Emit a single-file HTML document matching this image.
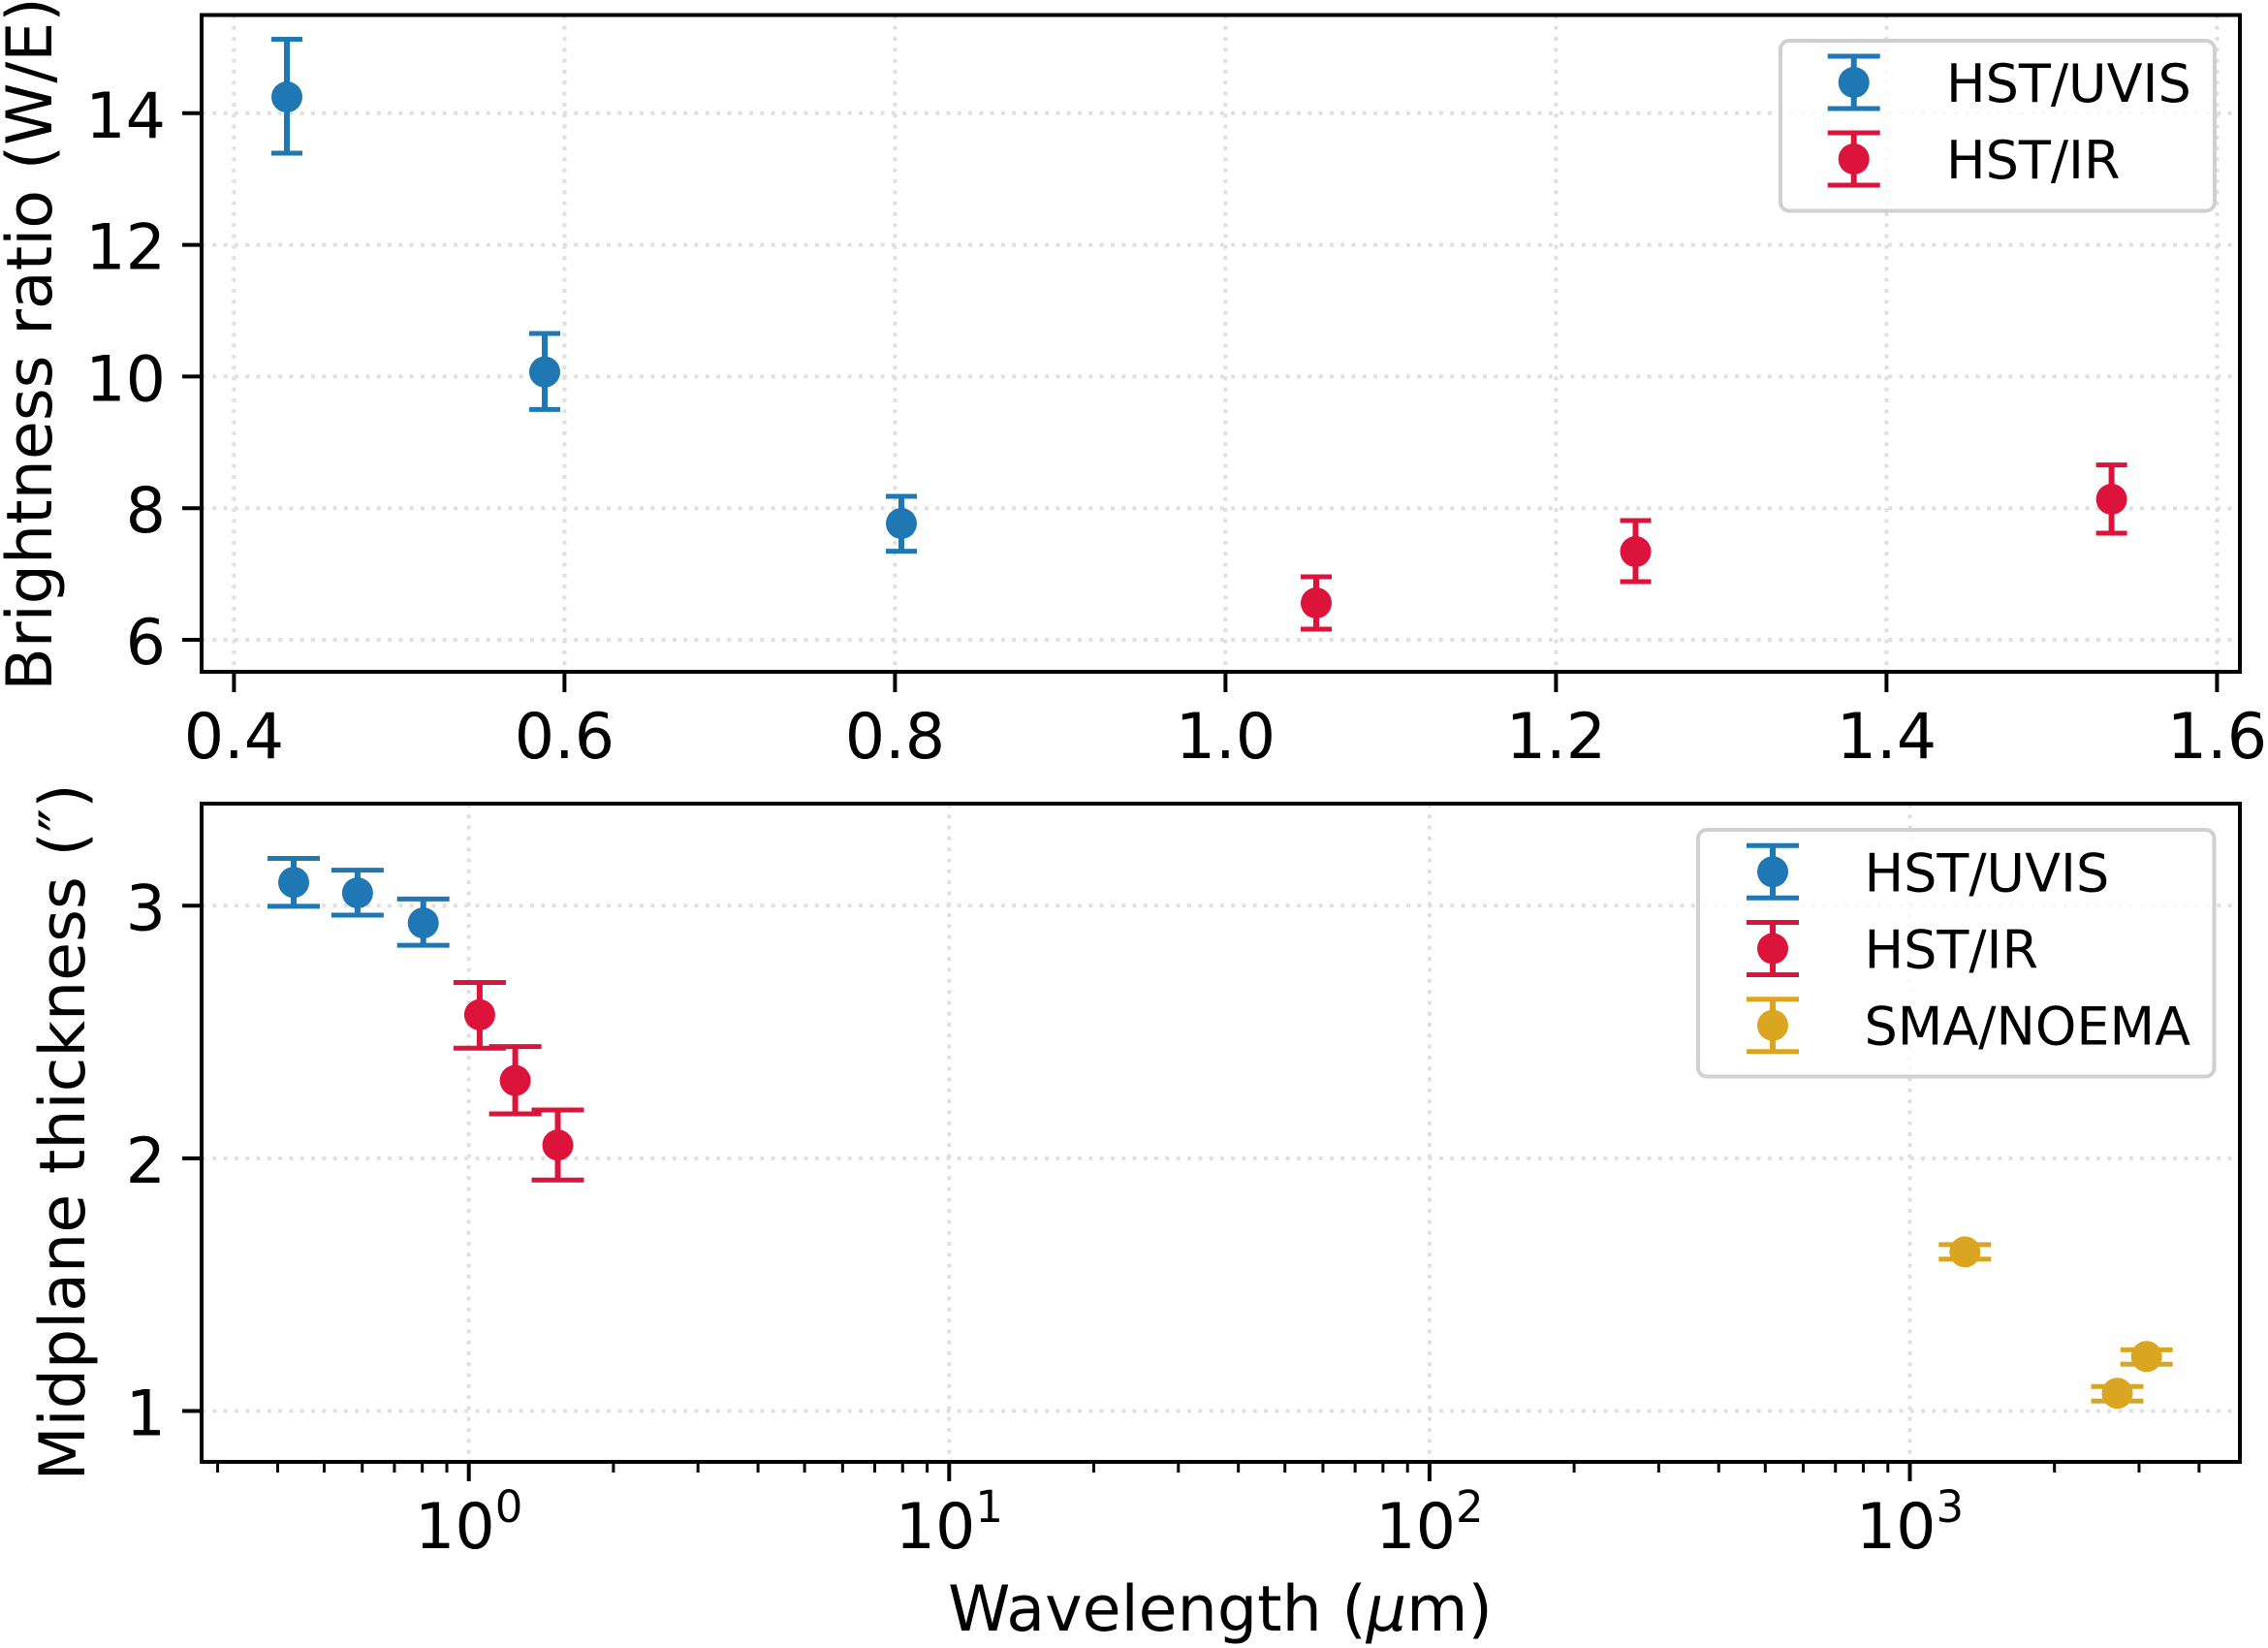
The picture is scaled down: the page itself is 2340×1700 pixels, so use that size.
<!DOCTYPE html>
<html><head><meta charset="utf-8"><style>
html,body{margin:0;padding:0;background:#fff;}
svg{display:block;}
text{font-family:"DejaVu Sans","Liberation Sans",sans-serif;fill:#000;}
</style></head><body>
<svg width="2340" height="1700" viewBox="0 0 2340 1700" xmlns="http://www.w3.org/2000/svg">
<rect width="2340" height="1700" fill="#fff"/>

<!-- ============ TOP PANEL ============ -->
<g stroke="#e0e0e0" stroke-width="4" stroke-dasharray="4 7.3" fill="none">
  <path d="M241.4 15.5V693M582.4 15.5V693M923.4 15.5V693M1264.4 15.5V693M1605.4 15.5V693M1946.4 15.5V693M2287.4 15.5V693"/>
  <path d="M208 116.8H2311M208 252.6H2311M208 388.4H2311M208 524.2H2311M208 660H2311"/>
</g>

<!-- top data -->
<g fill="none" stroke-linecap="butt">
  <g stroke="#1f77b4">
    <path stroke-width="6" d="M296 40.5V158M562 344V422.4M930 512V568.6"/>
    <path stroke-width="5" d="M280 40.5H312M280 158H312M546 344H578M546 422.4H578M914 512H946M914 568.6H946"/>
  </g>
  <g stroke="#dc143c">
    <path stroke-width="6" d="M1358 595V649M1687.5 537V600M2178.6 479.6V550"/>
    <path stroke-width="5" d="M1342 595H1374M1342 649H1374M1671.5 537H1703.5M1671.5 600H1703.5M2162.6 479.6H2194.6M2162.6 550H2194.6"/>
  </g>
</g>
<g fill="#1f77b4"><circle cx="296" cy="100" r="16"/><circle cx="562" cy="383.7" r="16"/><circle cx="930" cy="540" r="16"/></g>
<g fill="#dc143c"><circle cx="1358" cy="622" r="16"/><circle cx="1687.5" cy="569" r="16"/><circle cx="2178.6" cy="515" r="16"/></g>

<!-- top legend -->
<rect x="1837" y="42" width="448" height="175.5" rx="9" ry="9" fill="#fff" fill-opacity="0.8" stroke="#d0d0d0" stroke-width="4"/>
<g fill="none">
  <path stroke="#1f77b4" stroke-width="6" d="M1912.7 58V112"/>
  <path stroke="#1f77b4" stroke-width="5" d="M1885.7 58H1939.7M1885.7 112H1939.7"/>
  <path stroke="#dc143c" stroke-width="6" d="M1912.7 137V191"/>
  <path stroke="#dc143c" stroke-width="5" d="M1885.7 137H1939.7M1885.7 191H1939.7"/>
</g>
<circle cx="1912.7" cy="85" r="16" fill="#1f77b4"/>
<circle cx="1912.7" cy="164" r="16" fill="#dc143c"/>
<text x="2008" y="105" font-size="54">HST/UVIS</text>
<text x="2008" y="184" font-size="54">HST/IR</text>

<!-- top axes frame and ticks -->
<rect x="208" y="15.5" width="2103" height="677.5" fill="none" stroke="#000" stroke-width="4"/>
<g stroke="#000" stroke-width="4">
  <path d="M241.4 693V714M582.4 693V714M923.4 693V714M1264.4 693V714M1605.4 693V714M1946.4 693V714M2287.4 693V714"/>
  <path d="M188 116.8H208M188 252.6H208M188 388.4H208M188 524.2H208M188 660H208"/>
</g>
<g font-size="65" text-anchor="middle">
  <text x="241.4" y="782">0.4</text>
  <text x="582.4" y="782">0.6</text>
  <text x="923.4" y="782">0.8</text>
  <text x="1264.4" y="782">1.0</text>
  <text x="1605.4" y="782">1.2</text>
  <text x="1946.4" y="782">1.4</text>
  <text x="2287.4" y="782">1.6</text>
</g>
<g font-size="65" text-anchor="end">
  <text x="171" y="142">14</text>
  <text x="171" y="277.6">12</text>
  <text x="171" y="413.4">10</text>
  <text x="171" y="549.2">8</text>
  <text x="171" y="685">6</text>
</g>
<text font-size="65" text-anchor="middle" transform="translate(53,355) rotate(-90)">Brightness ratio (W/E)</text>

<!-- ============ BOTTOM PANEL ============ -->
<g stroke="#e0e0e0" stroke-width="4" stroke-dasharray="4 7.3" fill="none">
  <path d="M483.7 829V1508M979.3 829V1508M1474.9 829V1508M1970.5 829V1508"/>
  <path d="M208 934.3H2311M208 1194.9H2311M208 1455.5H2311"/>
</g>

<g fill="none">
  <g stroke="#1f77b4">
    <path stroke-width="6" d="M303 885.5V934.9M368.9 897.6V944M436.7 927.4V975.1"/>
    <path stroke-width="5" d="M276 885.5H330M276 934.9H330M341.9 897.6H395.9M341.9 944H395.9M409.7 927.4H463.7M409.7 975.1H463.7"/>
  </g>
  <g stroke="#dc143c">
    <path stroke-width="6" d="M494.9 1013.5V1081.3M531.6 1079.6V1149M575.5 1145V1217.3"/>
    <path stroke-width="5" d="M467.9 1013.5H521.9M467.9 1081.3H521.9M504.6 1079.6H558.6M504.6 1149H558.6M548.5 1145H602.5M548.5 1217.3H602.5"/>
  </g>
  <g stroke="#daa520">
    <path stroke-width="6" d="M2027.3 1283.9V1298.9M2214.7 1392.4V1407.3M2184.5 1430.3V1445.2"/>
    <path stroke-width="5" d="M2000.3 1283.9H2054.3M2000.3 1298.9H2054.3M2187.7 1392.4H2241.7M2187.7 1407.3H2241.7M2157.5 1430.3H2211.5M2157.5 1445.2H2211.5"/>
  </g>
</g>
<g fill="#1f77b4"><circle cx="303" cy="910.2" r="16"/><circle cx="368.9" cy="921.1" r="16"/><circle cx="436.7" cy="952.1" r="16"/></g>
<g fill="#dc143c"><circle cx="494.9" cy="1046.8" r="16"/><circle cx="531.6" cy="1114.6" r="16"/><circle cx="575.5" cy="1181.2" r="16"/></g>
<g fill="#daa520"><circle cx="2027.3" cy="1291.4" r="16"/><circle cx="2214.7" cy="1399.3" r="16"/><circle cx="2184.5" cy="1437.2" r="16"/></g>

<!-- bottom legend -->
<rect x="1752" y="856" width="532.5" height="254.5" rx="9" ry="9" fill="#fff" fill-opacity="0.8" stroke="#d0d0d0" stroke-width="4"/>
<g fill="none">
  <path stroke="#1f77b4" stroke-width="6" d="M1829 872.3V926.3"/>
  <path stroke="#1f77b4" stroke-width="5" d="M1802 872.3H1856M1802 926.3H1856"/>
  <path stroke="#dc143c" stroke-width="6" d="M1829 951.5V1005.5"/>
  <path stroke="#dc143c" stroke-width="5" d="M1802 951.5H1856M1802 1005.5H1856"/>
  <path stroke="#daa520" stroke-width="6" d="M1829 1030.7V1084.7"/>
  <path stroke="#daa520" stroke-width="5" d="M1802 1030.7H1856M1802 1084.7H1856"/>
</g>
<circle cx="1829" cy="899.3" r="16" fill="#1f77b4"/>
<circle cx="1829" cy="978.5" r="16" fill="#dc143c"/>
<circle cx="1829" cy="1057.7" r="16" fill="#daa520"/>
<text x="1923.5" y="919.3" font-size="54">HST/UVIS</text>
<text x="1923.5" y="998.5" font-size="54">HST/IR</text>
<text x="1923.5" y="1077.7" font-size="54">SMA/NOEMA</text>

<!-- bottom axes frame and ticks -->
<rect x="208" y="829" width="2103" height="679" fill="none" stroke="#000" stroke-width="4"/>
<g stroke="#000" stroke-width="4">
  <path d="M483.7 1508V1528M979.3 1508V1528M1474.9 1508V1528M1970.5 1508V1528"/>
  <path d="M188 934.3H208M188 1194.9H208M188 1455.5H208"/>
</g>
<g stroke="#000" stroke-width="3">
  <path d="M224.56 1508V1519M286.48 1508V1519M334.51 1508V1519M373.75 1508V1519M406.93 1508V1519M435.67 1508V1519M461.02 1508V1519
  M632.89 1508V1519M720.16 1508V1519M782.08 1508V1519M830.11 1508V1519M869.35 1508V1519M902.53 1508V1519M931.27 1508V1519M956.62 1508V1519
  M1128.49 1508V1519M1215.76 1508V1519M1277.68 1508V1519M1325.71 1508V1519M1364.95 1508V1519M1398.13 1508V1519M1426.87 1508V1519M1452.22 1508V1519
  M1624.09 1508V1519M1711.36 1508V1519M1773.28 1508V1519M1821.31 1508V1519M1860.55 1508V1519M1893.73 1508V1519M1922.47 1508V1519M1947.82 1508V1519
  M2119.69 1508V1519M2206.96 1508V1519M2268.88 1508V1519"/>
</g>
<g font-size="65" text-anchor="middle">
  <text x="483.7" y="1597">10<tspan dy="-27" font-size="45">0</tspan></text>
  <text x="979.3" y="1597">10<tspan dy="-27" font-size="45">1</tspan></text>
  <text x="1474.9" y="1597">10<tspan dy="-27" font-size="45">2</tspan></text>
  <text x="1970.5" y="1597">10<tspan dy="-27" font-size="45">3</tspan></text>
</g>
<g font-size="65" text-anchor="end">
  <text x="171" y="959.3">3</text>
  <text x="171" y="1219.9">2</text>
  <text x="171" y="1480.5">1</text>
</g>
<text font-size="65" text-anchor="middle" transform="translate(87,1168) rotate(-90)">Midplane thickness (″)</text>
<text x="1259" y="1682" font-size="65" text-anchor="middle">Wavelength (<tspan font-style="italic">μ</tspan>m)</text>
</svg>
</body></html>
